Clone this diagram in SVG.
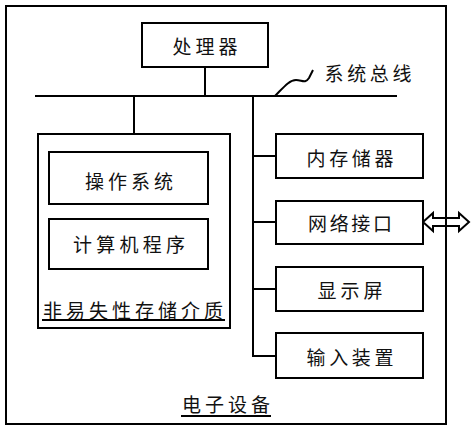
<svg xmlns="http://www.w3.org/2000/svg" width="474" height="431" viewBox="0 0 474 431">
<style>
.box{fill:#fff;stroke:#000;stroke-width:2}
.ln{fill:none;stroke:#000;stroke-width:2}
.t{font-family:"Noto Sans CJK SC","Noto Sans CJK JP",sans-serif;font-size:19px;fill:#111;text-anchor:middle;dominant-baseline:central}
</style>
<rect width="474" height="431" fill="#fff"/>
<g id="connectors">
<line class="ln" x1="205" y1="67" x2="205" y2="96"/>
<line class="ln" x1="35" y1="96" x2="397" y2="96"/>
<line class="ln" x1="134" y1="96" x2="134" y2="134"/>
<polyline class="ln" points="253,96 253,356 276,356"/>
<line class="ln" x1="253" y1="156" x2="276" y2="156"/>
<line class="ln" x1="253" y1="222" x2="276" y2="222"/>
<line class="ln" x1="253" y1="289" x2="276" y2="289"/>
<path class="ln" d="M275 96 C283 88 289 80 296 80 C302 80 305 84 309 78 L313 70"/>
<polygon id="arrow" points="423,222 433,213 433,218 459,218 459,213 469,222 459,231 459,226 433,226 433,231" fill="#fff" stroke="#000" stroke-width="2" stroke-linejoin="miter"/>
</g>
<g id="device">
<rect x="6" y="6" width="440" height="418" fill="none" stroke="#000" stroke-width="2"/>
<text class="t" x="226" y="403" textLength="88" lengthAdjust="spacing">电子设备</text>
<line class="ln" x1="181" y1="416" x2="271" y2="416" stroke-width="1.5"/>
</g>
<g id="processor">
<rect class="box" x="142" y="23" width="126" height="44"/>
<text class="t" x="205" y="45" textLength="65" lengthAdjust="spacing">处理器</text>
</g>
<g id="bus-label">
<text class="t" x="368" y="72" textLength="87" lengthAdjust="spacing">系统总线</text>
</g>
<g id="storage">
<rect class="box" x="38" y="134" width="192" height="194"/>
<text class="t" x="133" y="309" textLength="180" lengthAdjust="spacing">非易失性存储介质</text>
<line class="ln" x1="42" y1="320" x2="225" y2="320" stroke-width="1.5"/>
</g>
<g id="os">
<rect class="box" x="49" y="152" width="159" height="52"/>
<text class="t" x="129" y="180" textLength="88" lengthAdjust="spacing">操作系统</text>
</g>
<g id="program">
<rect class="box" x="49" y="219" width="159" height="50"/>
<text class="t" x="129" y="243" textLength="112" lengthAdjust="spacing">计算机程序</text>
</g>
<g id="memory">
<rect class="box" x="276" y="134" width="147" height="44"/>
<text class="t" x="350" y="157" textLength="87" lengthAdjust="spacing">内存储器</text>
</g>
<g id="network">
<rect class="box" x="276" y="201" width="147" height="43"/>
<text class="t" x="350" y="222" textLength="84" lengthAdjust="spacing">网络接口</text>
</g>
<g id="display">
<rect class="box" x="276" y="267" width="147" height="44"/>
<text class="t" x="350" y="289" textLength="65" lengthAdjust="spacing">显示屏</text>
</g>
<g id="input">
<rect class="box" x="276" y="333" width="147" height="45"/>
<text class="t" x="350" y="356" textLength="87" lengthAdjust="spacing">输入装置</text>
</g>
</svg>
